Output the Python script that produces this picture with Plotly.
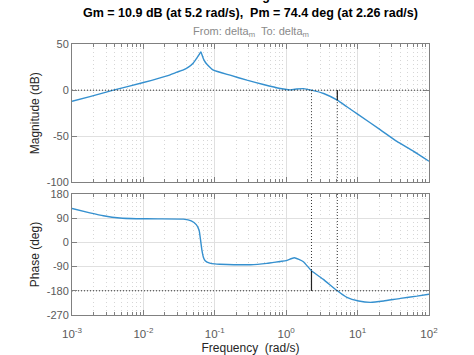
import plotly.graph_objects as go

# ---- data ----
mag_freq = [0.001, 0.00178, 0.0038, 0.01, 0.0214, 0.0295, 0.0363, 0.0427, 0.0501,
            0.0557, 0.0603, 0.0638, 0.0692, 0.0733, 0.0776, 0.0955, 0.164, 0.282,
            0.479, 0.826, 1.14, 1.41, 1.75, 2.26, 3.35, 5.2, 7.08, 10, 20.9, 35.5,
            60.3, 100]
mag_db = [-12, -7, 0, 8.3, 15.5, 19.5, 22, 25, 29.5, 34.5, 38.5, 41.4, 34, 30.5, 28,
          21.6, 16.2, 10.8, 6.1, 1.8, 0.3, 1.2, 1.7, 0, -3.6, -10.9, -18, -26, -43,
          -55.5, -66, -77]

phase_freq = [0.001, 0.00178, 0.00275, 0.00468, 0.00794, 0.0158, 0.0363, 0.0468,
              0.055, 0.0603, 0.0631, 0.0661, 0.0692, 0.0733, 0.0851, 0.1, 0.117,
              0.316, 0.537, 0.813, 1.0, 1.3, 1.74, 2.26, 3.31, 5.2, 7.08, 10.35,
              15.1, 23.2, 39.8, 67.6, 100]
phase_deg = [126, 110, 99, 90.5, 88, 87.5, 86.5, 80, 66, 45, 10, -30, -55, -68, -77,
             -80, -81, -83, -78, -71, -68, -57, -72, -105.6, -137.6, -180, -204.5,
             -218, -223, -218, -208, -200, -193]

gm_db = 10.9
w_gm = 5.2
pm_deg = 74.4
w_pm = 2.26

x_tickvals = [0.001, 0.01, 0.1, 1, 10, 100]
x_ticktext = ["10<sup>-3</sup>", "10<sup>-2</sup>", "10<sup>-1</sup>",
              "10<sup>0</sup>", "10<sup>1</sup>", "10<sup>2</sup>"]
mag_ticks = [-100, -50, 0, 50]
mag_ticktext = ["-100", "-50", "0", "50"]
phase_ticks = [-270, -180, -90, 0, 90, 180]
phase_ticktext = ["-270", "-180", "-90", "0", "90", "180"]

title_main = "Bode Diagram"
title_margin = "Gm = 10.9 dB (at 5.2 rad/s),\u00a0 Pm = 74.4 deg (at 2.26 rad/s)"
title_io = "From: delta<sub>m</sub>\u00a0 To: delta<sub>m</sub>"

# ---- styling ----
FONT = "Liberation Sans, Arial, Helvetica, sans-serif"
CURVE = "#3590cf"
AXC = "#808080"
TICKC = "#5a5a5a"
LABC = "#262626"
GRID = "#e0e0e0"
MINOR = "#d6d6d6"

minor_vals = [m * 10 ** e for e in range(-3, 2) for m in range(2, 10)]

fig = go.Figure()

fig.add_trace(go.Scatter(x=mag_freq, y=mag_db, xaxis="x2", yaxis="y2", mode="lines",
                         line=dict(color=CURVE, width=1.4, shape="spline", smoothing=0.4),
                         hoverinfo="skip"))
fig.add_trace(go.Scatter(x=phase_freq, y=phase_deg, xaxis="x", yaxis="y", mode="lines",
                         line=dict(color=CURVE, width=1.4, shape="spline", smoothing=0.4),
                         hoverinfo="skip"))

dot = dict(color="#333333", width=1, dash="1px,2px")
solid = dict(color="#222222", width=1.2)

fig.add_trace(go.Scatter(x=[mag_freq[0], mag_freq[-1]], y=[0, 0], xaxis="x2", yaxis="y2",
                         mode="lines", line=dot, hoverinfo="skip"))
fig.add_trace(go.Scatter(x=[phase_freq[0], phase_freq[-1]], y=[-180, -180], xaxis="x", yaxis="y",
                         mode="lines", line=dot, hoverinfo="skip"))
for w in (w_pm, w_gm):
    fig.add_trace(go.Scatter(x=[w, w], y=[0, mag_ticks[0]], xaxis="x2", yaxis="y2",
                             mode="lines", line=dot, hoverinfo="skip"))
    fig.add_trace(go.Scatter(x=[w, w], y=[phase_ticks[-1], -180], xaxis="x", yaxis="y",
                             mode="lines", line=dot, hoverinfo="skip"))
fig.add_trace(go.Scatter(x=[w_gm, w_gm], y=[0, -gm_db], xaxis="x2", yaxis="y2",
                         mode="lines", line=solid, hoverinfo="skip"))
fig.add_trace(go.Scatter(x=[w_pm, w_pm], y=[-180, -180 + pm_deg], xaxis="x", yaxis="y",
                         mode="lines", line=solid, hoverinfo="skip"))

xcommon = dict(type="log", range=[-3, 2], tickmode="array", tickvals=x_tickvals,
               ticks="inside", ticklen=5, tickcolor=AXC, showline=True, linecolor=AXC,
               linewidth=1, mirror="ticks", showgrid=True, gridcolor=GRID, gridwidth=1,
               zeroline=False, automargin=False,
               minor=dict(tickmode="array", tickvals=minor_vals, ticks="inside", ticklen=3,
                          tickcolor=AXC, showgrid=True, gridcolor=MINOR, griddash="1px,3px",
                          gridwidth=1))
ycommon = dict(tickmode="array", ticks="inside", ticklen=5, tickcolor=AXC, showline=True,
               linecolor=AXC, linewidth=1, mirror="ticks", showgrid=True, gridcolor=GRID,
               zeroline=False, automargin=False,
               tickfont=dict(family=FONT, size=11, color=TICKC))

fig.update_layout(
    width=474, height=355,
    margin=dict(l=72, r=45, t=44, b=40),
    paper_bgcolor="white", plot_bgcolor="white",
    showlegend=False,
    font=dict(family=FONT, color=LABC),
    xaxis=dict(**xcommon, anchor="y", domain=[0, 1], ticktext=x_ticktext,
               ticklabelstandoff=8,
               tickfont=dict(family=FONT, size=11.5, color=TICKC),
               title=dict(text="Frequency  (rad/s)", font=dict(family=FONT, size=12, color=LABC),
                          standoff=4)),
    xaxis2=dict(**xcommon, anchor="y2", matches="x", showticklabels=False),
    yaxis=dict(**ycommon, domain=[0, 0.4465], range=[-270, 180], tickvals=phase_ticks,
               ticktext=phase_ticktext, anchor="x",
               title=dict(text="Phase (deg)", font=dict(family=FONT, size=12, color=LABC),
                          standoff=4)),
    yaxis2=dict(**ycommon, domain=[0.489, 1], range=[-100, 50], tickvals=mag_ticks,
                ticktext=mag_ticktext, anchor="x2",
                title=dict(text="Magnitude (dB)", font=dict(family=FONT, size=12, color=LABC),
                           standoff=4)),
    annotations=[
        dict(text="<b>" + title_main + "</b>", xref="paper", yref="paper", x=0.5, y=1.177,
             showarrow=False, font=dict(family=FONT, size=12.5, color="#000000"),
             xanchor="center", yanchor="middle"),
        dict(text="<b>" + title_margin + "</b>", xref="paper", yref="paper", x=0.5, y=1.114,
             showarrow=False, font=dict(family=FONT, size=12.5, color="#000000"),
             xanchor="center", yanchor="middle"),
        dict(text=title_io, xref="paper", yref="paper", x=0.5, y=1.046,
             showarrow=False, font=dict(family=FONT, size=11, color="#8a8a8a"),
             xanchor="center", yanchor="middle"),
    ],
)

fig.write_html("out.html", config={"displayModeBar": False},
               post_script="document.body.style.margin='0';")
